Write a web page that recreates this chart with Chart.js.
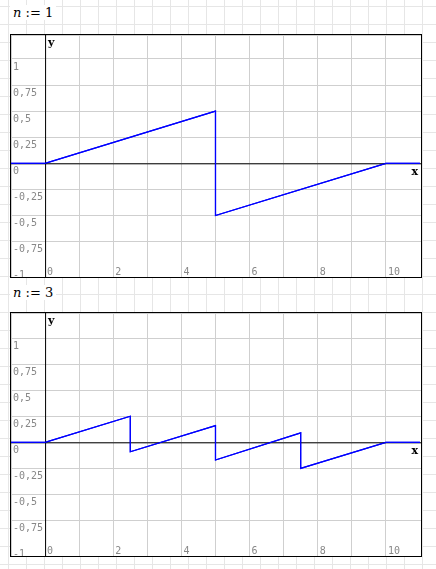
<!DOCTYPE html>
<html>
<head>
<meta charset="utf-8">
<script src="https://cdn.jsdelivr.net/npm/chart.js@4"></script>
<style>
  body { margin: 0; width: 436px; height: 569px; position: relative; background: #fff;
    background-image: linear-gradient(#e6e6e6 1px, transparent 1px), linear-gradient(90deg, #e6e6e6 1px, transparent 1px);
    background-size: 18px 18px; background-position: 8px 6px; font-family: "DejaVu Serif", serif; }
  .lbl { position: absolute; left: 10px; font-size: 13px; background: #fff; padding: 0 3px; }
  .lbl i { font-family: "DejaVu Serif", serif; }
  .box { position: absolute; left: 10px; width: 410px; border: 1px solid #000; background: #fff; }
</style>
</head>
<body>
<div class="lbl" style="top:5px"><i>n</i> := 1</div>
<div class="box" style="top:34px;height:242px"><canvas id="c1"></canvas></div>
<div class="lbl" style="top:285px"><i>n</i> := 3</div>
<div class="box" style="top:312px;height:243px"><canvas id="c2"></canvas></div>
<script>
// n = 1 sawtooth
const xs1 = [-1, 0, 5, 5, 10, 11];
const ys1 = [0, 0, 0.5, -0.5, 0, 0];
// n = 3 sawtooth
const xs3 = [-1, 0, 2.5, 2.5, 5, 5, 7.5, 7.5, 10, 11];
const ys3 = [0, 0, 0.25, -0.09, 0.16, -0.17, 0.09, -0.25, 0, 0];
const yTicks = [1, 0.75, 0.5, 0.25, 0, -0.25, -0.5, -0.75, -1];
const yTickLabels = ['1', '0,75', '0,5', '0,25', '0', '-0,25', '-0,5', '-0,75', '-1'];
const xTicks = [0, 2, 4, 6, 8, 10];

const labelPlugin = {
  id: 'mathcadLabels',
  afterDraw(chart) {
    const ctx = chart.ctx, xs = chart.scales.x, ys = chart.scales.y;
    const x0 = xs.getPixelForValue(0), y0 = ys.getPixelForValue(0);
    ctx.save();
    ctx.strokeStyle = '#000'; ctx.lineWidth = 1;
    ctx.beginPath();
    ctx.moveTo(chart.chartArea.left, y0 + 0.5); ctx.lineTo(chart.chartArea.right, y0 + 0.5);
    ctx.moveTo(x0 + 0.5, chart.chartArea.top); ctx.lineTo(x0 + 0.5, chart.chartArea.bottom);
    ctx.stroke();
    // redraw data line above axes
    chart.getDatasetMeta(0).controller.draw();
    ctx.font = '10px "DejaVu Sans Mono", monospace';
    ctx.fillStyle = '#888'; ctx.textBaseline = 'top'; ctx.textAlign = 'left';
    yTicks.forEach((v, i) => ctx.fillText(yTickLabels[i], chart.chartArea.left + 2, ys.getPixelForValue(v) + 3));
    ctx.textBaseline = 'bottom';
    xTicks.forEach(v => ctx.fillText(String(v), xs.getPixelForValue(v) + 2, chart.chartArea.bottom));
    ctx.fillStyle = '#000'; ctx.font = 'bold 11px "DejaVu Serif", serif';
    ctx.textBaseline = 'top';
    ctx.fillText('y', x0 + 3, chart.chartArea.top + 3);
    ctx.textAlign = 'right';
    ctx.fillText('x', chart.chartArea.right - 3, y0 + 3);
    ctx.restore();
  }
};

function makeChart(id, xs, ys, ymin, ymax) {
  new Chart(document.getElementById(id), {
    type: 'scatter',
    data: { datasets: [{ data: xs.map((x, i) => ({ x: x, y: ys[i] })), showLine: true,
      borderColor: '#0000ff', borderWidth: 1.2, pointRadius: 0, tension: 0 }] },
    options: {
      responsive: true, maintainAspectRatio: false, animation: false,
      layout: { padding: 0 },
      plugins: { legend: { display: false }, tooltip: { enabled: false } },
      scales: {
        x: { min: -1, max: 11.03, border: { display: false },
          ticks: { display: false, stepSize: 1 },
          grid: { color: '#cfcfcf', drawTicks: false } },
        y: { min: ymin, max: ymax, border: { display: false },
          ticks: { display: false, stepSize: 0.25 },
          grid: { color: '#cfcfcf', drawTicks: false } }
      }
    },
    plugins: [labelPlugin]
  });
}
makeChart('c1', xs1, ys1, -1.09, 1.23);
makeChart('c2', xs3, ys3, -1.09, 1.24);
</script>
</body>
</html>
